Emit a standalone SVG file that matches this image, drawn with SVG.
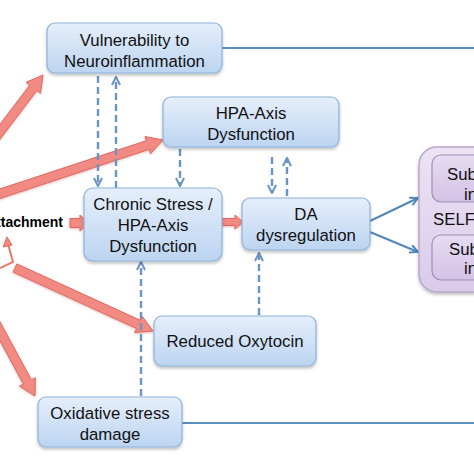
<svg xmlns="http://www.w3.org/2000/svg" width="474" height="474" viewBox="0 0 474 474">
<defs>
<linearGradient id="gBlue" x1="0" y1="0" x2="0" y2="1">
<stop offset="0" stop-color="#e6effb"/>
<stop offset="1" stop-color="#bcd4f1"/>
</linearGradient>
<linearGradient id="gPurp" x1="0" y1="0" x2="0" y2="1">
<stop offset="0" stop-color="#ece3f4"/>
<stop offset="1" stop-color="#dacbea"/>
</linearGradient>
<linearGradient id="gPurpIn" x1="0" y1="0" x2="0" y2="1">
<stop offset="0" stop-color="#e7dcf2"/>
<stop offset="1" stop-color="#d3c2e6"/>
</linearGradient>
<filter id="sh" x="-10%" y="-10%" width="130%" height="140%">
<feDropShadow dx="0" dy="2" stdDeviation="1.5" flood-color="#000" flood-opacity="0.25"/>
</filter>
<filter id="glow" x="-10%" y="-10%" width="120%" height="120%">
<feDropShadow dx="0" dy="1" stdDeviation="1.2" flood-color="#b04040" flood-opacity="0.35"/>
</filter>
<marker id="chev" viewBox="0 0 10 10" refX="9" refY="5" markerWidth="4.2" markerHeight="4.2" orient="auto" markerUnits="strokeWidth">
<path d="M1,1 L9,5 L1,9" fill="none" stroke="#6a94c4" stroke-width="2"/>
</marker>
<marker id="chevS" viewBox="0 0 10 10" refX="9" refY="5" markerWidth="5" markerHeight="5" orient="auto" markerUnits="strokeWidth">
<path d="M1,1 L9,5 L1,9" fill="none" stroke="#5187b9" stroke-width="2"/>
</marker>
</defs>
<style>
.box{fill:url(#gBlue);stroke:#8db1da;stroke-width:1.2;filter:url(#sh)}
.t{font-family:"Liberation Sans",Arial,sans-serif;font-size:16.8px;fill:#111;text-anchor:middle}
.tl{font-family:"Liberation Sans",Arial,sans-serif;font-size:16.8px;fill:#111}
.red{fill:#f08a82;stroke:#e2665e;stroke-width:1;filter:url(#glow)}
.dash{fill:none;stroke:#6a94c4;stroke-width:2.4;stroke-dasharray:7 4;marker-end:url(#chev)}
.solid{fill:none;stroke:#5187b9;stroke-width:2}
.line{fill:none;stroke:#5b8dbd;stroke-width:2.2}
</style>
<rect width="474" height="474" fill="#fff"/>

<g id="connectors">
<line class="line" x1="222" y1="48" x2="474" y2="48"/>
<line class="line" x1="182" y1="423" x2="474" y2="423"/>
<polygon class="red" points="-6.4,147.7 36.9,90.5 40.5,93.2 43,75 26.2,82.3 29.8,85.0 -13.6,142.3"/>
<polygon class="red" points="-8.6,201.3 149.2,149.3 150.6,153.6 163,140 145.0,136.5 146.4,140.7 -11.4,192.7"/>
<polygon class="red" points="70,218.5 80,218.5 80,215 88,223 80,231 80,227.5 70,227.5"/>
<polygon class="red" points="221,218.5 235,218.5 235,215 243,222 235,229 235,225.5 221,225.5"/>
<polygon class="red" points="13.1,272.1 136.6,328.5 134.7,332.6 153,331 142.2,316.2 140.3,320.3 16.9,263.9"/>
<polygon class="red" points="-9.0,324.1 23.4,384.1 19.5,386.2 35,396 35.3,377.7 31.4,379.8 -1.0,319.9"/>
<polyline points="0,268 13,262 8,244" fill="none" stroke="#ea7a70" stroke-width="2"/>
<polygon points="7,237 3,247 12,245" fill="#f08a82" stroke="#e2665e" stroke-width="1"/>
<line class="dash" x1="98" y1="76" x2="98" y2="186"/>
<line class="dash" x1="116" y1="188" x2="116" y2="77"/>
<line class="dash" x1="180" y1="149" x2="180" y2="186"/>
<line class="dash" x1="272" y1="157" x2="272" y2="193"/>
<line class="dash" x1="287" y1="196" x2="287" y2="158"/>
<line class="dash" x1="141" y1="396" x2="141" y2="262"/>
<line class="dash" x1="259" y1="315" x2="259" y2="253"/>
<line class="solid" x1="370" y1="221" x2="418" y2="198" marker-end="url(#chevS)"/>
<line class="solid" x1="370" y1="232" x2="418" y2="252" marker-end="url(#chevS)"/>
</g>

<g id="attachment">
<text x="63" y="227" font-family="'Liberation Sans',Arial,sans-serif" font-size="14" font-weight="bold" text-anchor="end" fill="#000">Attachment</text>
</g>

<g id="vulnerability">
<rect class="box" x="47" y="23" width="175" height="50" rx="8"/>
<text class="t" x="134.5" y="46">Vulnerability to</text>
<text class="t" x="134.5" y="67">Neuroinflammation</text>
</g>

<g id="hpa">
<rect class="box" x="163" y="97" width="176" height="50" rx="8"/>
<text class="t" x="251" y="119">HPA-Axis</text>
<text class="t" x="251" y="140">Dysfunction</text>
</g>

<g id="chronic">
<rect class="box" x="84" y="188" width="138" height="73" rx="9"/>
<text class="t" x="153" y="210">Chronic Stress /</text>
<text class="t" x="153" y="231">HPA-Axis</text>
<text class="t" x="153" y="252">Dysfunction</text>
</g>

<g id="da">
<rect class="box" x="242" y="198" width="128" height="52" rx="8"/>
<text class="t" x="306" y="220">DA</text>
<text class="t" x="306" y="241">dysregulation</text>
</g>

<g id="oxytocin">
<rect class="box" x="154" y="316" width="162" height="50" rx="8"/>
<text class="t" x="235" y="347">Reduced Oxytocin</text>
</g>

<g id="oxidative">
<rect class="box" x="38" y="397" width="144" height="50" rx="8"/>
<text class="t" x="110" y="419">Oxidative stress</text>
<text class="t" x="110" y="440">damage</text>
</g>

<g id="self">
<rect x="419" y="147" width="80" height="145" rx="18" fill="url(#gPurp)" stroke="#b8a5cc" stroke-width="1.5" filter="url(#sh)"/>
<rect x="432" y="155" width="60" height="47" rx="9" fill="url(#gPurpIn)" stroke="#a08cba" stroke-width="1.2"/>
<rect x="432" y="235" width="60" height="45" rx="9" fill="url(#gPurpIn)" stroke="#a08cba" stroke-width="1.2"/>
<text class="tl" x="447" y="180">Sub</text>
<text class="tl" x="464" y="200">in</text>
<text class="tl" x="433" y="225">SELF</text>
<text class="tl" x="449" y="255">Sub</text>
<text class="tl" x="464" y="274">in</text>
</g>
</svg>
